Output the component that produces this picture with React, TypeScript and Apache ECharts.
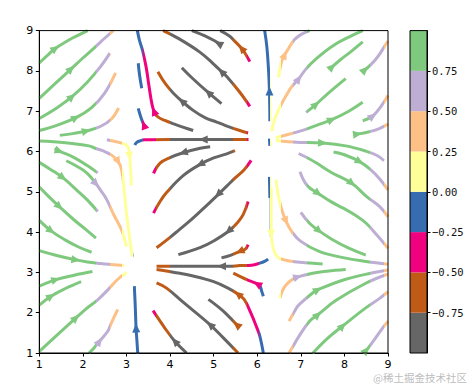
import React, { useEffect, useRef } from 'react';
import * as echarts from 'echarts';

// ---- axis ticks ----
const xTicks = [1, 2, 3, 4, 5, 6, 7, 8, 9];
const yTicks = [1, 2, 3, 4, 5, 6, 7, 8, 9];
const colourbarTicks = [-0.75, -0.5, -0.25, 0, 0.25, 0.5, 0.75];
const colourbarLabels = ['\u22120.75', '\u22120.50', '\u22120.25', '0.00', '0.25', '0.50', '0.75'];

// ---- colour levels (Accent_r, 8 discrete bands from -1 to 1) ----
const levelBounds = [-1, -0.75, -0.5, -0.25, 0, 0.25, 0.5, 0.75, 1];
const levelColours = ['#666666', '#bf5b17', '#f0027f', '#386cb0', '#ffff99', '#fdc086', '#beaed4', '#7fc97f'];
// x positions where the streamline colour changes band, and the band of each x interval
const colourBreaks = [2.29, 2.62, 2.89, 3.14, 3.39, 3.67, 3.99, 5.44, 5.76, 6.03, 6.3, 6.54, 6.81, 7.14, 8.58, 8.9];
const bandLevels = [7, 6, 5, 4, 3, 2, 1, 0, 1, 2, 3, 4, 5, 6, 7, 6, 5];

// ---- streamlines (x, y) ----
const leftUpperLines = [
  [[1, 8.2], [1.2, 8.4], [1.37, 8.56], [1.7, 8.78], [1.9, 8.89], [2.11, 9.0]],
  [[1, 7.32], [1.4, 7.72], [1.73, 8.05], [2.0, 8.32], [2.3, 8.61], [2.5, 8.81], [2.7, 9.0]],
  [[1, 6.82], [1.4, 7.08], [1.75, 7.36], [2.1, 7.72], [2.4, 8.1], [2.62, 8.44]],
  [[1, 6.52], [1.4, 6.65], [1.84, 6.84], [2.2, 7.09], [2.5, 7.45], [2.75, 7.95]],
  [[1.47, 6.4], [1.8, 6.45], [2.08, 6.51], [2.4, 6.62], [2.65, 6.8], [2.82, 7.08]],
];
const leftMiddleLines = [
  [[1, 6.26], [1.6, 6.22], [2.14, 6.14], [2.28, 6.08], [2.45, 6.02], [2.66, 5.91], [2.81, 5.75], [2.89, 5.54], [2.95, 5.0], [3.0, 4.47], [3.08, 3.8], [3.13, 3.39]],
  [[2.55, 6.29], [2.85, 6.22], [2.98, 6.17], [3.04, 6.1], [3.07, 5.9], [3.1, 5.5], [3.11, 5.15]],
  [[1.35, 6.07], [1.46, 6.01], [1.8, 5.85], [2.1, 5.65], [2.34, 5.47]],
  [[1.62, 5.77], [1.9, 5.61], [2.1, 5.46], [2.26, 5.26], [2.4, 5.05], [2.55, 4.8], [2.7, 4.45], [2.89, 4.05], [2.95, 3.85], [3.0, 3.64]],
  [[1, 5.73], [1.25, 5.56], [1.54, 5.35], [1.9, 5.0], [2.1, 4.8], [2.34, 4.51]],
  [[1, 5.12], [1.2, 4.9], [1.46, 4.63], [1.8, 4.3], [2.05, 4.08], [2.3, 3.85]],
  [[1, 4.29], [1.27, 4.03], [1.6, 3.8], [1.9, 3.63], [2.2, 3.5]],
  [[1, 3.54], [1.4, 3.42], [1.84, 3.31], [2.1, 3.26], [2.41, 3.22], [2.6, 3.2], [2.95, 3.17]],
];
const leftLowerLines = [
  [[1, 2.66], [1.38, 2.82], [1.8, 2.93], [2.22, 3.02]],
  [[1, 2.19], [1.27, 2.41], [1.6, 2.6], [1.96, 2.77]],
  [[1, 1.04], [1.4, 1.44], [1.84, 1.87], [2.1, 2.12], [2.34, 2.32], [2.61, 2.61], [2.8, 2.83], [3.0, 3.0]],
  [[2.14, 1.0], [2.25, 1.12], [2.38, 1.29], [2.57, 1.54], [2.64, 1.71], [2.72, 1.9], [2.8, 2.08]],
  [[3.18, 2.66], [3.2, 2.2], [3.22, 1.62], [3.24, 1.3], [3.26, 0.98]],
];
const centreUpperLines = [
  [[3.25, 9.0], [3.3, 8.75], [3.37, 8.5], [3.45, 8.1], [3.52, 7.6], [3.58, 7.2], [3.64, 6.97], [3.72, 6.86], [3.88, 6.77], [4.1, 6.68], [4.53, 6.52]],
  [[3.27, 8.19], [3.3, 7.9], [3.35, 7.57]],
  [[3.27, 7.07], [3.33, 6.85], [3.39, 6.68], [3.42, 6.62]],
  [[4.27, 8.08], [4.5, 7.83], [4.88, 7.46], [5.18, 7.19]],
  [[3.84, 9.0], [4.2, 8.8], [4.69, 8.46], [5.0, 8.17], [5.18, 7.98], [5.3, 7.86], [5.6, 7.47], [5.83, 7.12]],
  [[4.5, 9.0], [4.8, 8.87], [5.0, 8.76], [5.15, 8.66]],
  [[5.15, 9.0], [5.37, 8.86], [5.5, 8.72], [5.64, 8.56], [5.72, 8.44], [5.83, 8.23]],
  [[3.72, 7.98], [3.9, 7.67], [4.1, 7.42], [4.27, 7.25], [4.53, 7.02], [4.8, 6.84], [5.07, 6.73], [5.26, 6.65], [5.6, 6.52], [5.79, 6.46]],
  [[3.19, 6.16], [3.23, 6.22], [3.3, 6.26], [3.42, 6.29], [4.0, 6.3], [4.76, 6.3], [5.3, 6.3], [5.8, 6.3]],
];
const centreMiddleLines = [
  [[3.62, 5.46], [3.77, 5.71], [4.0, 5.85], [4.3, 5.97], [4.69, 6.08], [4.92, 6.12]],
  [[3.62, 4.47], [3.77, 4.76], [3.92, 4.98], [4.3, 5.4], [4.69, 5.68], [5.0, 5.84], [5.3, 5.94], [5.49, 6.02]],
  [[5.86, 5.78], [5.7, 5.55], [5.5, 5.35], [5.3, 5.14], [5.1, 4.93], [4.8, 4.62], [4.5, 4.32], [4.2, 4.05], [4.0, 3.87], [3.69, 3.61]],
  [[5.79, 4.76], [5.68, 4.44], [5.55, 4.24], [5.34, 4.02], [5.0, 3.78], [4.7, 3.62], [4.19, 3.44]],
  [[5.79, 3.69], [5.72, 3.57], [5.6, 3.52], [5.4, 3.43], [5.18, 3.36]],
  [[3.69, 3.15], [4.5, 3.15], [5.18, 3.15], [5.37, 3.15], [5.6, 3.17], [5.87, 3.18], [6.06, 3.23], [6.18, 3.28], [6.25, 3.33]],
];
const centreLowerLines = [
  [[3.69, 3.07], [4.1, 3.0], [4.53, 2.91], [5.0, 2.77], [5.33, 2.61], [5.56, 2.46], [5.7, 2.33], [5.85, 2.0], [5.99, 1.63], [6.06, 1.42], [6.14, 1.0]],
  [[5.45, 2.98], [5.6, 2.9], [5.76, 2.82], [5.95, 2.74], [6.06, 2.67], [6.1, 2.54], [6.14, 2.41]],
  [[3.69, 2.74], [3.92, 2.61], [4.3, 2.26], [4.92, 1.7], [5.2, 1.4], [5.56, 1.0]],
  [[4.88, 2.33], [5.1, 2.15], [5.3, 1.96], [5.53, 1.7]],
  [[3.61, 2.05], [3.88, 1.62], [4.11, 1.29], [4.38, 1.0]],
];
const rightUpperLines = [
  [[6.17, 9.0], [6.22, 8.6], [6.26, 8.0], [6.28, 7.5], [6.29, 6.75]],
  [[6.28, 6.32], [6.29, 6.14]],
  [[6.49, 7.84], [6.55, 8.2], [6.62, 8.38], [6.72, 8.56], [6.85, 8.77], [7.0, 8.9], [7.2, 9.0]],
  [[6.33, 6.5], [6.4, 6.8], [6.52, 7.1], [6.67, 7.4], [6.8, 7.62], [6.95, 7.8], [7.12, 8.05], [7.35, 8.3], [7.73, 8.62], [8.1, 8.84], [8.42, 9.0]],
  [[7.68, 8.06], [7.9, 8.27], [8.15, 8.48], [8.42, 8.72]],
  [[7.12, 6.97], [7.35, 7.17], [7.6, 7.42], [8.03, 7.81]],
  [[8.45, 8.0], [8.6, 8.15], [8.72, 8.29], [8.84, 8.47], [8.95, 8.66], [9.0, 8.74]],
  [[8.42, 6.76], [8.65, 6.88], [8.84, 7.12], [9.0, 7.39]],
  [[6.42, 6.34], [6.56, 6.38], [6.8, 6.45], [7.06, 6.53], [7.36, 6.65], [7.71, 6.79], [8.1, 7.0], [8.42, 7.22]],
  [[8.22, 6.42], [8.4, 6.45], [8.57, 6.49], [8.8, 6.57], [9.0, 6.68]],
];
const rightMiddleLines = [
  [[6.28, 5.37], [6.29, 4.85]],
  [[6.43, 6.27], [6.66, 6.25], [6.89, 6.23], [7.5, 6.21], [8.03, 6.14], [8.49, 6.01], [8.75, 5.9], [8.91, 5.77]],
  [[7.75, 5.99], [8.0, 5.92], [8.35, 5.75], [8.6, 5.55], [8.8, 5.33], [9.0, 5.05]],
  [[6.95, 5.95], [7.19, 5.82], [7.35, 5.72], [7.7, 5.48], [8.17, 5.21], [8.51, 4.88], [8.81, 4.63], [9.0, 4.38]],
  [[6.98, 5.5], [7.15, 5.15], [7.4, 4.96], [7.7, 4.75], [7.96, 4.6], [8.25, 4.42], [8.5, 4.22], [8.75, 3.92], [9.0, 3.6]],
  [[7.0, 4.49], [7.2, 4.22], [7.42, 4.03], [7.7, 3.83], [8.1, 3.6], [8.49, 3.43]],
  [[6.43, 5.3], [6.46, 5.05], [6.54, 4.64], [6.66, 4.27], [6.8, 4.0], [7.0, 3.77], [7.42, 3.52], [8.0, 3.36], [8.5, 3.27], [9.0, 3.2]],
  [[6.32, 5.09], [6.32, 4.43], [6.32, 4.02], [6.34, 3.75], [6.39, 3.52], [6.48, 3.37], [6.62, 3.31], [6.81, 3.27], [7.1, 3.24], [7.5, 3.21]],
];
const rightLowerLines = [
  [[6.52, 2.36], [6.58, 2.55], [6.66, 2.69], [6.81, 2.83], [6.93, 2.89], [7.27, 2.98], [7.6, 3.03], [8.03, 3.07]],
  [[6.73, 1.79], [6.89, 2.1], [6.96, 2.2], [7.27, 2.49], [7.39, 2.57], [8.03, 2.83], [8.65, 2.99], [9.0, 3.06]],
  [[6.73, 1.0], [6.85, 1.22], [6.96, 1.42], [7.2, 1.79], [7.39, 1.95], [7.8, 2.3], [8.49, 2.73], [9.0, 2.96]],
  [[7.27, 0.99], [7.6, 1.35], [7.96, 1.67], [8.49, 2.12], [8.8, 2.35], [9.0, 2.52]],
  [[8.49, 1.04], [8.7, 1.35], [8.85, 1.58], [9.0, 1.79]],
];

// ---- arrow heads: x, y, direction in degrees (0 = pointing right) ----
const arrowHeads = [
  [1.37, 8.56, 35], [1.73, 8.05, 43], [1.75, 7.36, 40], [1.84, 6.84, 27], [2.08, 6.51, 14],
  [2.81, 5.75, -60], [3.07, 5.88, -85], [1.46, 6.01, -20], [2.3, 5.2, -46], [1.54, 5.35, -37],
  [1.46, 4.63, -43], [1.27, 4.03, -37], [1.84, 3.31, -9],
  [1.38, 2.82, 17], [1.27, 2.41, 33], [1.84, 1.87, 43], [2.38, 1.29, 55], [3.22, 1.62, 92],
  [3.63, 7.0, 112], [3.4, 6.66, 110], [4.88, 7.46, 137], [5.18, 7.98, 135], [5.11, 8.68, 152],
  [5.64, 8.56, 130], [4.27, 7.25, 140], [4.76, 6.3, 180],
  [4.3, 5.97, 197], [4.69, 5.68, 208], [5.1, 4.93, 224], [5.34, 4.02, 221], [5.6, 3.52, 205], [5.18, 3.15, 180],
  [5.56, 2.46, 140], [6.0, 2.71, 150], [4.92, 1.7, 138], [5.53, 1.7, 140], [4.11, 1.29, 133],
  [6.28, 7.5, 90], [6.63, 8.4, 66], [6.95, 7.8, 55], [7.72, 8.1, 43], [7.35, 7.17, 40],
  [8.47, 8.03, 45], [8.65, 6.88, 36], [7.71, 6.79, 24], [8.3, 6.43, 8],
  [7.5, 6.21, -3], [8.35, 5.75, -28], [8.17, 5.21, -40], [7.4, 4.96, -35], [7.42, 4.03, -40],
  [6.66, 4.27, -66], [6.32, 3.95, -88],
  [6.93, 2.89, 18], [7.39, 2.57, 29], [7.39, 1.95, 43], [7.96, 1.67, 45], [8.5, 1.07, 50],
];

const watermark = '@稀土掘金技术社区';

const allLines = [
  ...leftUpperLines, ...leftMiddleLines, ...leftLowerLines,
  ...centreUpperLines, ...centreMiddleLines, ...centreLowerLines,
  ...rightUpperLines, ...rightMiddleLines, ...rightLowerLines,
];

function buildOption() {
  const pieces = bandLevels.map((lvl, i) => {
    const p: any = { color: levelColours[lvl] };
    if (i > 0) p.gte = colourBreaks[i - 1];
    if (i < colourBreaks.length) p.lt = colourBreaks[i];
    return p;
  });

  const lineSeries = allLines.map((pts) => ({
    type: 'line',
    xAxisIndex: 0,
    yAxisIndex: 0,
    data: pts,
    showSymbol: false,
    symbol: 'none',
    smooth: 0.4,
    silent: true,
    lineStyle: { width: 3, cap: 'butt', join: 'round' },
    z: 2,
  }));

  const arrowSeries = {
    type: 'scatter',
    xAxisIndex: 0,
    yAxisIndex: 0,
    data: arrowHeads,
    symbol: 'triangle',
    symbolSize: [8, 9],
    symbolRotate: (v: number[]) => v[2] - 90,
    silent: true,
    itemStyle: { opacity: 1 },
    z: 3,
  };

  const colourbarSeries = {
    type: 'custom',
    xAxisIndex: 1,
    yAxisIndex: 1,
    silent: true,
    data: levelColours.map((_, i) => [levelBounds[i], levelBounds[i + 1], i]),
    encode: { y: [0, 1] },
    renderItem: (params: any, api: any) => {
      const lo = api.value(0);
      const hi = api.value(1);
      const a = api.coord([0, hi]);
      const b = api.coord([1, lo]);
      return {
        type: 'rect',
        shape: { x: a[0], y: a[1], width: b[0] - a[0], height: b[1] - a[1] },
        style: { fill: levelColours[api.value(2)], stroke: null },
      };
    },
    z: 2,
  };

  const series: any[] = [...lineSeries, arrowSeries, colourbarSeries];
  const mappedIdx = series.map((_, i) => i).slice(0, lineSeries.length + 1);

  const axisFont = { fontFamily: 'DejaVu Sans', fontSize: 11, color: '#000' };
  const findLabel = (v: number) => {
    const k = colourbarTicks.findIndex((t) => Math.abs(t - v) < 1e-6);
    return k >= 0 ? colourbarLabels[k] : '';
  };

  return {
    animation: false,
    backgroundColor: '#fff',
    grid: [
      { left: 39.3, top: 30.6, width: 348.7, height: 322.4, show: true, borderColor: '#000', borderWidth: 1, backgroundColor: 'transparent', z: 10 },
      { left: 410, top: 30.6, width: 17, height: 322.4, show: true, borderColor: '#000', borderWidth: 1, backgroundColor: 'transparent', z: 10 },
    ],
    xAxis: [
      {
        gridIndex: 0, type: 'value', min: xTicks[0], max: xTicks[xTicks.length - 1], interval: 1,
        axisLine: { show: true, onZero: false, lineStyle: { color: '#000', width: 1 } },
        axisTick: { show: true, length: 3.5, lineStyle: { color: '#000' } },
        axisLabel: { ...axisFont, margin: 6 },
        splitLine: { show: false },
      },
      { gridIndex: 1, type: 'value', min: 0, max: 1, show: false },
    ],
    yAxis: [
      {
        gridIndex: 0, type: 'value', min: yTicks[0], max: yTicks[yTicks.length - 1], interval: 1,
        axisLine: { show: true, onZero: false, lineStyle: { color: '#000', width: 1 } },
        axisTick: { show: true, length: 3.5, lineStyle: { color: '#000' } },
        axisLabel: { ...axisFont, margin: 6 },
        splitLine: { show: false },
      },
      {
        gridIndex: 1, type: 'value', min: -1, max: 1, interval: 0.25, position: 'right',
        axisLine: { show: true, onZero: false, lineStyle: { color: '#000', width: 1 } },
        axisTick: { show: true, length: 3.5, lineStyle: { color: '#000' }, customValues: colourbarTicks },
        axisLabel: {
          fontFamily: 'DejaVu Sans Mono', fontSize: 10.5, color: '#111', margin: 5,
          customValues: colourbarTicks,
          formatter: (v: number) => findLabel(v),
        },
        splitLine: { show: false },
      },
    ],
    visualMap: {
      type: 'piecewise',
      show: false,
      dimension: 0,
      seriesIndex: mappedIdx,
      pieces,
    },
    graphic: [
      {
        type: 'text',
        x: 373,
        y: 372,
        silent: true,
        style: {
          text: watermark,
          font: '10.5px "Noto Sans CJK SC"',
          fill: 'rgba(165,165,165,0.75)',
        },
        z: 20,
      },
    ],
    series,
  };
}

export default function App() {
  const ref = useRef<HTMLDivElement>(null);
  useEffect(() => {
    document.body.style.margin = '0';
    if (!ref.current) return;
    const chart = echarts.init(ref.current, null, { renderer: 'svg' });
    chart.setOption(buildOption() as any);
    return () => chart.dispose();
  }, []);
  return <div ref={ref} style={{ width: 474, height: 385, position: 'absolute', left: 0, top: 0, background: '#fff' }} />;
}
